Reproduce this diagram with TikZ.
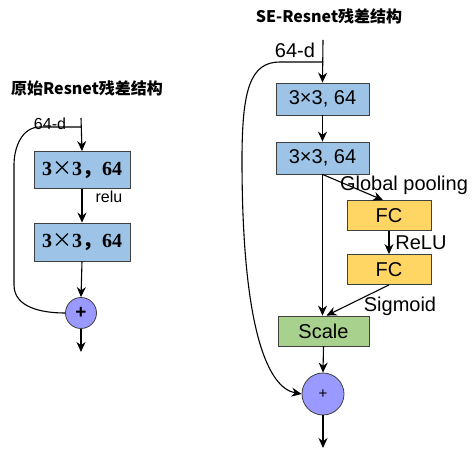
\documentclass[tikz,border=0pt]{standalone}
\usepackage{fontspec}
\setmainfont{Liberation Sans}
\newfontfamily\cjk{Noto Sans CJK SC}
\newfontfamily\serifb{Liberation Serif}
\usetikzlibrary{arrows.meta}

\definecolor{convblue}{RGB}{157,195,230}
\definecolor{fcyellow}{RGB}{255,214,100}
\definecolor{scalegreen}{RGB}{169,209,142}
\definecolor{pluspurple}{RGB}{153,153,255}

\tikzset{
  arr/.style={line width=1.1pt,-{Stealth[length=10pt,width=9pt]}},
  link/.style={line width=1.1pt},
  convbox/.style={draw=black!75, line width=0.8pt, fill=convblue, inner sep=0pt},
  fcbox/.style={draw=black!75, line width=0.8pt, fill=fcyellow, inner sep=0pt,
    minimum width=84pt, minimum height=30pt, font=\fontsize{20}{20}\selectfont},
  plusnode/.style={circle, draw=black!75, line width=0.8pt, fill=pluspurple, inner sep=0pt},
  lbl/.style={font=\fontsize{20}{20}\selectfont},
}

\begin{document}
\begin{tikzpicture}[x=1pt,y=-1pt]
\useasboundingbox (0,0) rectangle (474,454);

% original resnet block
\node[font=\cjk\fontsize{16}{16}\selectfont\bfseries] (titleL) at (87,88) {原始Resnet残差结构};
\coordinate (inL) at (81,118);
\coordinate (skipL) at (81,127);
\coordinate (outL) at (81,352);
\node[font=\fontsize{16}{16}\selectfont] (dimL) at (50,124) {64-d};
\node[convbox, minimum width=96pt, minimum height=37pt, font=\serifb\bfseries\fontsize{20}{20}\selectfont] (convL1) at (82,170) {3{\cjk\mdseries ×}3{\cjk ，}64};
\node[convbox, minimum width=96pt, minimum height=38pt, font=\serifb\bfseries\fontsize{20}{20}\selectfont] (convL2) at (82,242) {3{\cjk\mdseries ×}3{\cjk ，}64};
\node[plusnode, minimum size=31pt, font=\fontsize{19}{19}\selectfont\bfseries] (plusL) at (81,313) {+};
\node[font=\fontsize{16}{16}\selectfont] (reluL) at (109,197) {relu};

\draw[arr] (inL) -- (convL1.north);
\draw[arr] (convL1.south) -- (convL2.north);
\draw[arr] (convL2.south) -- (plusL.north);
\draw[arr] (plusL.south) -- (outL);
\draw[link] (skipL) -- (40,127) to[out=180,in=90] (14,165) -- (14,285) to[out=-90,in=180] (plusL.west);

% SE-resnet block
\node[font=\cjk\fontsize{16}{16}\selectfont\bfseries] (titleR) at (329,16) {SE-Resnet残差结构};
\coordinate (inR) at (323,40);
\coordinate (skipR) at (323,62);
\coordinate (outR) at (323,448);
\node[lbl] (dimR) at (295,50) {64-d};
\node[convbox, minimum width=93pt, minimum height=32pt, lbl] (convA) at (322.5,99) {3×3, 64};
\node[convbox, minimum width=93pt, minimum height=32pt, lbl] (convB) at (322.5,158) {3×3, 64};
\node[fcbox] (fc1) at (389,215.5) {FC};
\node[fcbox] (fc2) at (389,269.5) {FC};
\node[draw=black!75, line width=0.8pt, fill=scalegreen, minimum width=91pt, minimum height=30pt, lbl] (scale) at (323.5,331) {Scale};
\node[plusnode, minimum size=42pt, font=\fontsize{15}{15}\selectfont] (plusR) at (323,394) {+};

\draw[arr] (inR) -- (convA.north);
\draw[arr] (convA.south) -- (convB.north);
\draw[arr] (convB.south) -- (convB.south |- scale.north);
\draw[arr] (convB.south) -- ([xshift=-6pt]fc1.north);
\draw[arr] (fc1.south) -- (fc2.north);
\draw[arr] (fc2.south) -- ([xshift=3pt]scale.north);
\draw[arr] (scale.south) -- (plusR.north);
\draw[arr] (plusR.south) -- (outR);
\draw[arr] (skipR) -- (280,62) .. controls (250,62) and (242,90) .. (242,160) .. controls (242,330) and (268,388) .. (plusR.west);

\node[lbl] (pool) at (404,185) {Global pooling};
\node[lbl] (relu) at (421,243) {ReLU};
\node[lbl] (sigm) at (400,306) {Sigmoid};

\end{tikzpicture}
\end{document}
